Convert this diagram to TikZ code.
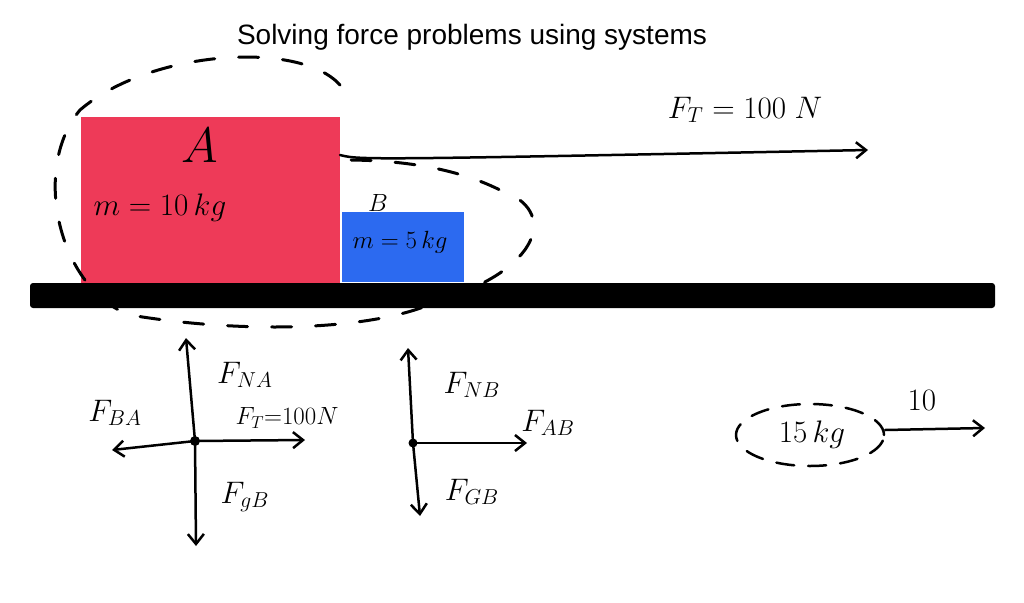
\documentclass[tikz,border=0pt]{standalone}
\usepackage{fontspec}
\setmainfont{Liberation Sans}
\usetikzlibrary{arrows.meta}
\begin{document}
\begin{tikzpicture}[x=1pt,y=-1pt,
  pen/.style={line width=2.5pt,line cap=round,line join=round},
  hand/.style={font=\fontsize{20}{20}\selectfont,scale=1.5},
  arr/.style={pen,-{Straight Barb[length=10pt,width=16pt]}},
  dbl/.style={pen,{Straight Barb[length=10pt,width=16pt]}-{Straight Barb[length=10pt,width=16pt]}},
  dsh/.style={pen,line width=3pt,dash pattern=on 20pt off 24pt}]
\useasboundingbox[fill=white] (0,0) rectangle (1024,602);
\node (title) at (472,37) {\fontsize{28}{28}\selectfont Solving force problems using systems};
\fill[fill={rgb,255:red,238;green,58;blue,88}] (81,117) rectangle (340,283);
\node[hand,scale=1.6] (A) at (200,145) {$A$};
\node[hand] (mA) at (160,208) {$m = 10\,kg$};
\fill[fill={rgb,255:red,44;green,106;blue,240}] (342,212) rectangle (464,282);
\node[hand,scale=0.8] (B) at (378,203) {$B$};
\node[font=\fontsize{24}{24}\selectfont] (mB) at (400,242) {$m = 5\,kg$};
\fill[black,rounded corners=3pt] (30,283) rectangle (995,308);
\draw[dsh] (340,85) .. controls (300,40) and (150,50) .. (80,110) .. controls (30,170) and (60,290) .. (130,315) .. controls (250,335) and (380,330) .. (440,300) .. controls (540,270) and (560,210) .. (500,190) .. controls (450,165) and (390,160) .. (345,160);
\coordinate (ts) at (340,155);
\coordinate (te) at (868,150);
\draw[arr] (ts) .. controls (360,160) .. (te);
\node[hand] (FT) at (745,110) {$F_T = 100\ N$};
% FBD A
\coordinate (cA) at (195,441);
\coordinate (nA) at (186,338);
\coordinate (gA) at (196,546);
\coordinate (lA) at (112,450);
\coordinate (rA) at (305,440);
\draw[dbl] (nA) -- (cA) -- (gA);
\draw[dbl] (lA) -- (cA) -- (rA);
\fill (cA) circle (5pt);
\node[hand] (FNA) at (245,375) {$F_{NA}$};
\node[hand] (FBA) at (115,413) {$F_{BA}$};
\node[hand,scale=0.8] (FTA) at (287,418) {$F_T{=}100N$};
\node[hand] (FgB) at (245,497) {$F_{gB}$};
% FBD B
\coordinate (cB) at (413,443);
\coordinate (nB) at (408,348);
\coordinate (gB) at (420,516);
\coordinate (rB) at (527,443);
\draw[dbl] (nB) -- (cB) -- (gB);
\draw[arr] (cB) -- (rB);
\fill (cB) circle (4.5pt);
\node[hand] (FNB) at (472,385) {$F_{NB}$};
\node[hand] (FAB) at (548,423) {$F_{AB}$};
\node[hand] (FGB) at (472,492) {$F_{GB}$};
% system
\draw[pen,dash pattern=on 18pt off 14pt] (810,435) ellipse [x radius=74pt,y radius=31pt];
\node[hand] (m15) at (812,435) {$15\,kg$};
\coordinate (s1) at (885,430);
\coordinate (s2) at (985,428);
\draw[arr] (s1) -- (s2);
\node[hand] (ten) at (922,400) {$10$};
\end{tikzpicture}
\end{document}
